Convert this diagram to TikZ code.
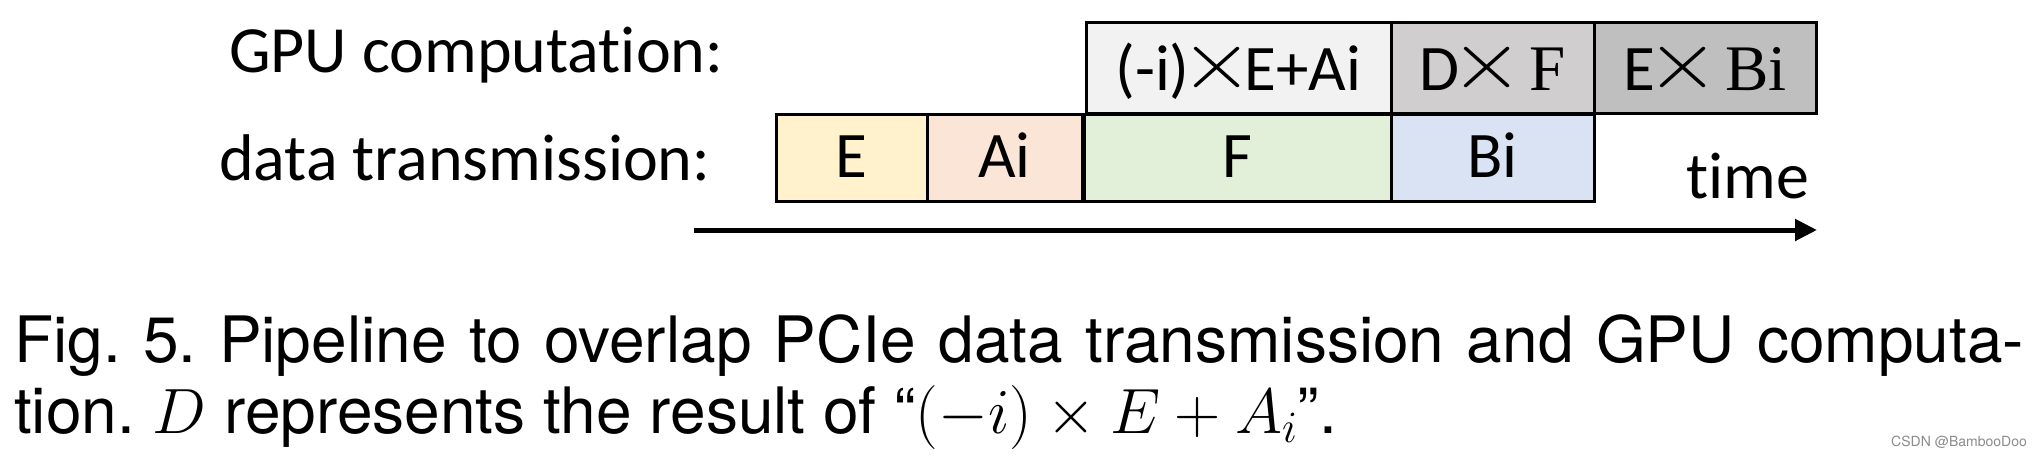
\RequirePackage{fix-cm}
\documentclass[tikz,border=0pt]{standalone}
\usepackage{fontspec}
\setmainfont{Carlito}[Ligatures={NoCommon}]
\newfontfamily\capfont{TeX Gyre Heros}
\newfontfamily\serf{Liberation Serif}
\usetikzlibrary{arrows.meta}
\definecolor{cE}{HTML}{FFF2CC}
\definecolor{cA}{HTML}{FBE5D6}
\definecolor{cF}{HTML}{E2F0D9}
\definecolor{cB}{HTML}{DAE3F3}
\definecolor{cTa}{HTML}{F2F2F2}
\definecolor{cTb}{HTML}{D0CECE}
\definecolor{cTc}{HTML}{BFBFBF}
\newcommand{\bigtimes}{\hspace{-9pt}\raisebox{2pt}{\scalebox{1.12}[1]{\fontsize{84}{84}\selectfont$\times$}}\hspace{-9pt}}
\frenchspacing
\begin{document}
\begin{tikzpicture}[x=1pt,y=-1pt,
  slot/.style={draw=black, line width=3pt, inner sep=0pt, anchor=center,
    font=\fontsize{65}{78}\selectfont},
  lowslot/.style={slot, minimum height=87pt, text height=39pt, text depth=0pt},
  topslot/.style={slot, minimum height=91pt, text height=44pt, text depth=0pt},
  lbl/.style={inner sep=0pt, anchor=base west, font=\fontsize{66}{78}\selectfont},
  captext/.style={inner sep=0pt, anchor=base west, font=\capfont\fontsize{64}{77}\selectfont}]
\useasboundingbox[fill=white] (0,0) rectangle (2042,456);
% row labels
\node[lbl] (gpu) at (229,72) {GPU computation:};
\node[lbl] (dat) at (219,180) {data transmission:};
% data transmission row
\node[lowslot, fill=cE, minimum width=151pt] (E) at (851.5,157.5) {E};
\node[lowslot, fill=cA, minimum width=155pt] (Ai) at (1004.5,157.5) {Ai};
\node[lowslot, fill=cF, minimum width=307pt] (F) at (1237.5,157.5) {F};
\node[lowslot, fill=cB, minimum width=203pt] (Bi) at (1492.5,157.5) {Bi};
% GPU computation row
\node[topslot, fill=cTa, minimum width=305pt] (T1) at (1238.5,68) {(-i)\bigtimes E+Ai};
\node[topslot, fill=cTb, minimum width=203pt] (T2) at (1492.5,68) {D\bigtimes\ {\serf F}};
\node[topslot, fill=cTc, minimum width=222pt] (T3) at (1705,68) {E\bigtimes\ {\serf Bi}};
% time axis
\node[lbl] (time) at (1686,198) {time};
\coordinate (ts) at (694,230);
\coordinate (te) at (1817,230);
\draw[line width=5pt, -{Triangle[length=22pt,width=21pt]}] (ts) -- (te);
% caption
\node[captext] (cap1) at (14,362) {\makebox[2010pt][s]{Fig. 5. Pipeline to overlap PCIe data transmission and GPU computa-}};
\node[captext] (cap2) at (14,433) {tion. $D$ represents the result of “$(-i)\times E+A_i$”.};
\node[inner sep=0pt, anchor=base east, font=\capfont\fontsize{14}{16}\selectfont, text=black!45] (wm) at (2027,446) {CSDN @BambooDoo};
\end{tikzpicture}
\end{document}
